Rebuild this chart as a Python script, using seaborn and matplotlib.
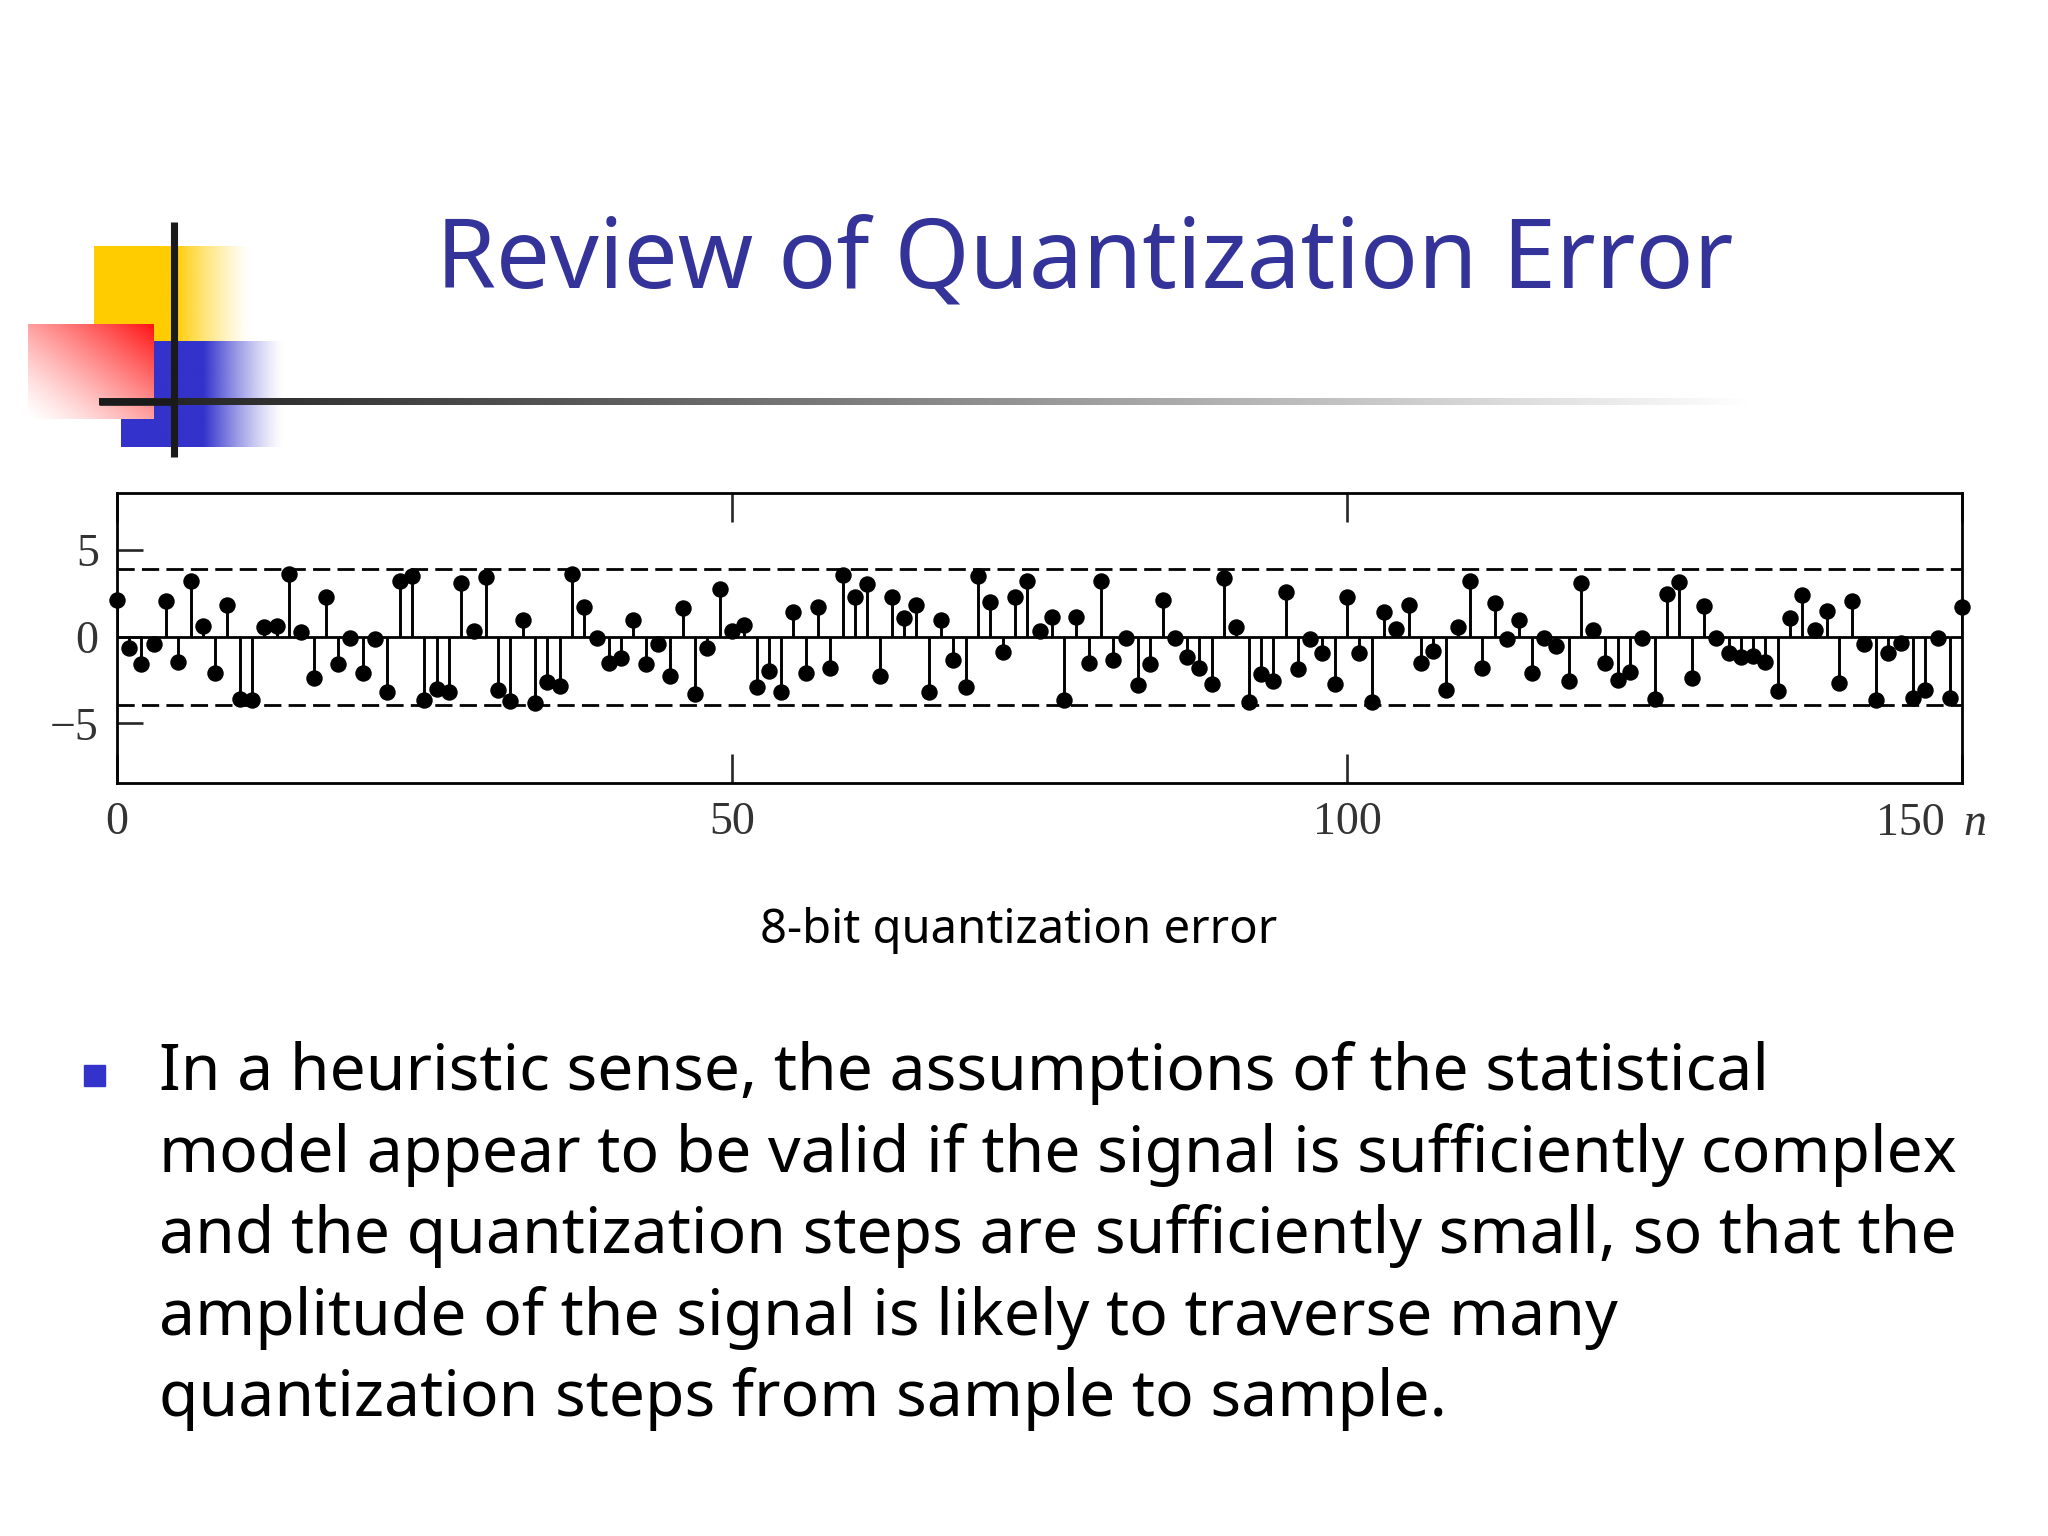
import numpy as np
import pandas as pd
import seaborn as sns
import matplotlib.pyplot as plt

# quantization error e[n] (x 10^-3), n = 0..150
err_values = [
    2.12, -0.64, -1.54, -0.39, 2.08, -1.46, 3.22, 0.64, -2.06, 1.81,
    -3.56, -3.62, 0.58, 0.62, 3.60, 0.29, -2.37, 2.31, -1.54, -0.08,
    -2.06, -0.10, -3.18, 3.24, 3.51, -3.66, -3.02, -3.18, 3.12, 0.33,
    3.43, -3.04,
    -3.70, 0.96, -3.80, -2.60, -2.85, 3.60, 1.70, -0.08, -1.50, -1.25,
    0.96, -1.54, -0.42, -2.27, 1.68, -3.28, -0.62, 2.74, 0.35, 0.67,
    -2.89, -1.97, -3.18, 1.41, -2.06, 1.70, -1.79, 3.56, 2.27, 3.04,
    -2.27,
    2.27, 1.10, 1.83, -3.18, 0.96, -1.35, -2.89, 3.51, 2.02, -0.87,
    2.31, 3.24, 0.35, 1.12, -3.66, 1.16, -1.50, 3.22, -1.31, -0.08,
    -2.79, -1.54, 2.12, -0.08, -1.16, -1.79, -2.74, 3.41, 0.58, -3.76,
    -2.15,
    -2.56, 2.56, -1.83, -0.10, -0.91, -2.74, 2.27, -0.92, -3.76, 1.45,
    0.48, 1.83, -1.50, -0.83, -3.04, 0.54, 3.24, -1.79, 1.97, -0.10,
    0.96, -2.08, -0.08, -0.54, -2.56, 3.12, 0.39, -1.50, -2.50, -2.02,
    -0.08,
    -3.56, 2.45, 3.14, -2.35, 1.79, -0.08, -0.91, -1.16, -1.12, -1.48,
    -3.14, 1.06, 2.41, 0.42, 1.50, -2.66, 2.08, -0.44, -3.66, -0.91,
    -0.33, -3.51, -3.04, -0.08, -3.53, 1.73,
]
n_values = list(range(len(err_values)))
assert len(err_values) == 151

half_step = 2 ** -8 * 1000  # +/- delta/2 bounds
y_ticks = [5, 0, -5]
y_tick_labels = ['5', '0', '\u22125']
x_ticks = [0, 50, 100, 150]
x_tick_labels = ['0', '50', '100', '']

title_text = 'Review of Quantization Error'
caption_text = '8-bit quantization error'
bullet_lines = [
    'In a heuristic sense, the assumptions of the statistical',
    'model appear to be valid if the signal is sufficiently complex',
    'and the quantization steps are sufficiently small, so that the',
    'amplitude of the signal is likely to traverse many',
    'quantization steps from sample to sample.',
]

df = pd.DataFrame({'n': n_values, 'err': err_values})

sns.set_theme(style='white')
plt.rcParams['font.family'] = ['Noto Sans', 'DejaVu Sans']

W, H = 2048, 1536
fig = plt.figure(figsize=(W / 100, H / 100), dpi=100)
fig.patch.set_facecolor('white')

# slide decorations, drawn in pixel coordinates
bg = fig.add_axes([0, 0, 1, 1], zorder=0)
bg.axis('off')


def fade_block(rgb, x0, x1, y0, y1, solid_to):
    xs = np.linspace(x0, x1, 200)
    alpha = np.clip((x1 - xs) / (x1 - solid_to), 0, 1) ** 1.3
    alpha = np.where(xs < solid_to, 1.0, alpha)
    img = np.zeros((2, 200, 4))
    img[..., :3] = rgb
    img[..., 3] = alpha
    bg.imshow(img, extent=(x0, x1, y1, y0), aspect='auto', interpolation='bilinear')


fade_block((1.0, 0.8, 0.0), 94, 252, 246, 341, 175)
fade_block((0.2, 0.2, 0.8), 121, 284, 341, 447, 204)

# red square: red top right, white bottom left
gx, gy = np.meshgrid(np.linspace(0, 1, 120), np.linspace(0, 1, 100))
t = np.clip((gx + (1 - gy)) / 2, 0, 1) ** 1.3
red = np.ones((100, 120, 3))
red[..., 1] = 1 - 0.92 * t
red[..., 2] = 1 - 0.92 * t
bg.imshow(red, extent=(28, 154, 419, 324), aspect='auto', interpolation='bilinear')

# grey rule fading to white
s = np.linspace(0, 1, 400)
v = 0.12 + 0.88 * s ** 1.1
rule = np.stack([v, v, v], axis=-1)[None, :, :]
bg.imshow(rule, extent=(99, 1750, 405.5, 399), aspect='auto', interpolation='bilinear')
bg.plot([174, 174], [222, 457], color='#1a1a1a', lw=5.1, solid_capstyle='butt')
bg.plot([99, 175], [402.3, 402.3], color='#1a1a1a', lw=4.8, solid_capstyle='butt')
bg.set_xlim(0, W)
bg.set_ylim(H, 0)

bg.text(436, 288, title_text, color='#333399', fontsize=69.2, ha='left', va='baseline')
bg.text(1019, 943, caption_text, color='black', fontsize=34, ha='center', va='baseline')
bg.add_patch(plt.Rectangle((84, 1065), 21, 21, color='#3333cc'))
for i, line in enumerate(bullet_lines):
    bg.text(159, 1090 + i * 81.6, line, color='black', fontsize=46.2, ha='left', va='baseline')

# stem plot of the error sequence
ax = fig.add_axes([116.7 / W, 1 - 783.3 / H, (1962.3 - 116.7) / W, (783.3 - 493.3) / H], zorder=2)
ax.vlines(df['n'], 0, df['err'], colors='black', lw=2.1, zorder=2)
ax.axhline(0, color='black', lw=2.0, zorder=2)
for b in (half_step, -half_step):
    ax.axhline(b, color='black', lw=2.0, ls=(0, (6.2, 2.6)), zorder=1)
sns.scatterplot(data=df, x='n', y='err', color='black', s=140, linewidth=0,
                ax=ax, zorder=3, clip_on=False, legend=False)

ax.set_xlim(0, 150)
ax.set_ylim(-8.45, 8.28)
ax.set_xlabel('')
ax.set_ylabel('')
for sp in ax.spines.values():
    sp.set_visible(True)
    sp.set_color('black')
    sp.set_linewidth(2.0)

serif = {'family': 'Liberation Serif', 'size': 33, 'color': '#333333'}
ax.set_yticks(y_ticks)
ax.set_yticklabels(y_tick_labels, fontdict=serif)
ax.set_xticks(x_ticks)
ax.set_xticklabels(x_tick_labels, fontdict=serif)
ax.tick_params(axis='y', direction='in', length=19, width=1.9, left=True, right=False, pad=13)
ax.tick_params(axis='x', direction='in', length=21, width=1.9, bottom=True, top=True, pad=13)
ax.text(148.6, -0.065, '150', transform=ax.get_xaxis_transform(), ha='right', va='top', **serif)
ax.text(150.1, -0.065, 'n', transform=ax.get_xaxis_transform(), ha='left', va='top',
        style='italic', **serif)

fig.savefig('out.png', dpi=100, facecolor='white')
